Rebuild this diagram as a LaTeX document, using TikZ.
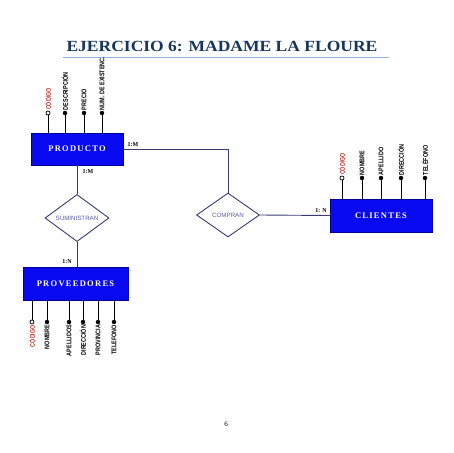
\documentclass[tikz,border=0pt]{standalone}
\usepackage{fontspec}
\setmainfont{Liberation Serif}
\setsansfont{Liberation Sans}
\newfontfamily\attrfont[FakeStretch=0.8]{Liberation Sans}
\newfontfamily\titlefont[FakeStretch=1.13]{Liberation Serif}
\newfontfamily\entfont[LetterSpace=15]{Liberation Serif}
\usetikzlibrary{shapes.geometric,positioning}

\definecolor{titleblue}{HTML}{17365D}
\definecolor{ruleblue}{HTML}{95B3D7}
\definecolor{entblue}{HTML}{0A0AF0}
\definecolor{linenavy}{HTML}{3B3B72}
\definecolor{keyred}{HTML}{C0392B}
\definecolor{reltext}{HTML}{5A5AA8}

\begin{document}
\begin{tikzpicture}[x=1pt,y=-1pt,
     % define styles
     entity/.style={
         draw=blue!60!black,
         fill=entblue,
         text=white,
         font=\entfont\bfseries\fontsize{8.5}{8}\selectfont,
         inner sep=0pt
     },
     rel/.style={
         diamond,
         draw=linenavy,
         line width=0.9pt,
         fill=white,
         inner sep=0pt,
         text=reltext,
         font=\sffamily\fontsize{6.2}{6}\selectfont
     },
     card/.style={
         font=\bfseries\fontsize{6}{6}\selectfont,
         inner sep=0pt
     },
     key dot/.style={circle, draw, line width=0.7pt, fill=white, minimum size=4pt, inner sep=0pt},
     full dot/.style={circle, draw, fill=black, minimum size=4pt, inner sep=0pt},
     key lbl/.style={text=keyred},
     full lbl/.style={text=black},
     attr/.style={
         rotate=90,
         inner sep=0.5pt,
         font=\attrfont\bfseries\fontsize{6.8}{6}\selectfont
     },
     link/.style={draw=linenavy, line width=0.9pt}
]
\useasboundingbox (0,0) rectangle (453,453);

% title
\node[font=\titlefont\bfseries\fontsize{15.5}{16}\selectfont, text=titleblue] (title) at (222,46) {EJERCICIO 6: MADAME LA FLOURE};
\coordinate (rulel) at (63,57);
\coordinate (ruler) at (389,57);
\draw[ruleblue, line width=0.8pt] (rulel) -- (ruler);

% entities
\node[entity, minimum width=92pt, minimum height=32pt] (prod) at (77,149) {PRODUCTO};
\node[entity, minimum width=102pt, minimum height=33pt] (cli) at (381,215.5) {CLIENTES};
\node[entity, minimum width=105pt, minimum height=33pt] (prov) at (75.5,283.5) {PROVEEDORES};

% relations
\node[rel, minimum width=64pt, minimum height=43pt] (sum) at (77,218) {SUMINISTRAN};
\node[rel, minimum width=63pt, minimum height=44pt] (comp) at (228,215) {COMPRAN};

\draw[link] (prod.east) -| (comp.north);
\draw[link] (prod.south) -- (sum.north);
\draw[link] (sum.south) -- (sum.south |- prov.north);
\draw[link] (comp.east) -- (cli.west);

\node[card] at (133,145) {1:M};
\node[card] at (88,172) {1:M};
\node[card] at (67,262) {1:N};
\node[card] at (321,211) {1: N};

% attributes of PRODUCTO
\foreach \n/\x/\t/\k in {1/48/CÓDIGO/key, 2/65/DESCRIPCIÓN/full, 3/84/PRECIO/full, 4/102/NUM. DE EXISTENC./full}{
    \node[\k\space dot] (pa\n) at (\x,113) {};
    \draw (pa\n |- prod.north) -- (pa\n);
    \node[attr, \k\space lbl, anchor=west] at (pa\n.north) {\t};
}

% attributes of CLIENTES
\foreach \n/\x/\t/\k in {1/342/CÓDIGO/key, 2/362/NOMBRE/full, 3/381/APELLIDO/full, 4/401/DIRECCIÓN/full, 5/425/TELÉFONO/full}{
    \node[\k\space dot] (ca\n) at (\x,178) {};
    \draw (ca\n |- cli.north) -- (ca\n);
    \node[attr, \k\space lbl, anchor=west] at (ca\n.north) {\t};
}

% attributes of PROVEEDORES
\foreach \n/\x/\t/\k in {1/32/CÓDIGO/key, 2/47/NOMBRE/full, 3/69/APELLIDOS/full, 4/83/DIRECCIÓN/full, 5/98/PROVINCIA/full, 6/114/TELEFONO/full}{
    \node[\k\space dot] (va\n) at (\x,322) {};
    \draw (va\n |- prov.south) -- (va\n);
    \node[attr, \k\space lbl, anchor=east] at (va\n.south) {\t};
}

% page number
\node[font=\fontsize{7}{7}\selectfont] (page) at (226,424) {6};
\end{tikzpicture}
\end{document}
